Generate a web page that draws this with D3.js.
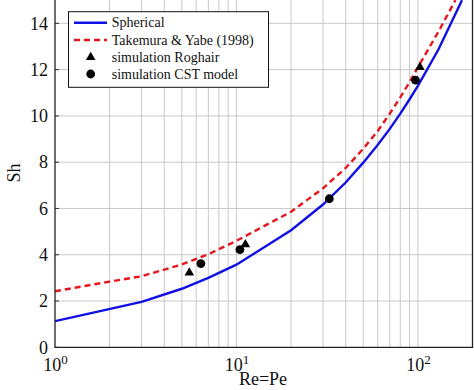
<!DOCTYPE html>
<html><head><meta charset="utf-8">
<script src="https://cdn.jsdelivr.net/npm/d3@7"></script>
<style>body{margin:0;background:#fff}svg{display:block}</style>
</head><body>
<svg id="c" width="474" height="390"></svg>
<script>
// ---- data ----
const sphericalRe = [1, 3, 5, 7, 10, 20, 30, 40, 50, 60, 70, 80, 90, 100, 130, 175];
const sphericalSh = [1.13, 1.96, 2.53, 3.0, 3.57, 5.06, 6.17, 7.12, 7.98, 8.74, 9.44, 10.1, 10.72, 11.3, 12.88, 15.0];
const takemuraRe = [1, 2, 3, 5, 7, 10, 20, 30, 40, 50, 60, 70, 80, 90, 100, 130, 161];
const takemuraSh = [2.42, 2.84, 3.07, 3.58, 4.02, 4.6, 5.86, 6.87, 7.75, 8.58, 9.34, 10.1, 10.8, 11.46, 12.1, 13.65, 15.0];
const roghairRe = [5.5, 11.2, 102.6];
const roghairSh = [3.22, 4.44, 12.1];
const cstRe = [6.37, 10.45, 32.5, 97];
const cstSh = [3.62, 4.22, 6.42, 11.55];
const yTicks = [0, 2, 4, 6, 8, 10, 12, 14];
const xMajor = [1, 10, 100];
const xMajorExp = ["0", "1", "2"];
const xGrid = [2,3,4,5,6,7,8,9,10,20,30,40,50,60,70,80,90,100];
const legendLabels = ["Spherical", "Takemura & Yabe (1998)", "simulation Roghair", "simulation CST model"];

const svg = d3.select("#c");
const L = 55, R = 472.5, T = 0.2, B = 347.3;
const x = d3.scaleLog().domain([1, 200]).range([L, R]);
const y = d3.scaleLinear().domain([0, 15]).range([B, T]);
const font = "'Liberation Serif', 'Times New Roman', serif";

svg.append("defs").append("clipPath").attr("id", "clip")
  .append("rect").attr("x", L).attr("y", 0).attr("width", R - L).attr("height", B);

// grid
const g = svg.append("g");
g.selectAll("line.vx").data(xGrid).join("line")
  .attr("x1", d => x(d)).attr("x2", d => x(d)).attr("y1", 0).attr("y2", B)
  .attr("stroke", "#c9c9c9").attr("stroke-width", 1);
g.selectAll("line.hy").data(yTicks.filter(d => d > 0)).join("line")
  .attr("class","hy")
  .attr("x1", L).attr("x2", R).attr("y1", d => y(d)).attr("y2", d => y(d))
  .attr("stroke", "#c9c9c9").attr("stroke-width", 1);

// axes with d3
const yAxis = d3.axisLeft(y).tickValues(yTicks).tickSize(0).tickPadding(7).tickFormat(d3.format("d"));
const ya = svg.append("g").attr("transform", `translate(${L},0)`).call(yAxis);
ya.select(".domain").remove();
ya.selectAll("text").attr("font-family", font).attr("font-size", 18).attr("fill", "#111");

const xAxis = d3.axisBottom(x).tickValues(xMajor).tickSize(0).tickFormat(() => "");
const xa = svg.append("g").attr("transform", `translate(0,${B})`).call(xAxis);
xa.select(".domain").remove();
xa.selectAll(".tick").each(function(d, i) {
  const t = d3.select(this).append("text").attr("y", 24).attr("text-anchor", "middle")
    .attr("font-family", font).attr("font-size", 18).attr("fill", "#111");
  t.append("tspan").text("10");
  t.append("tspan").attr("dy", -7).attr("font-size", 13).text(xMajorExp[i]);
});

// tick marks inside
svg.append("g").selectAll("line").data(yTicks).join("line")
  .attr("x1", L).attr("x2", L + 4).attr("y1", d => y(d)).attr("y2", d => y(d))
  .attr("stroke", "#333");

// curves
const line = d3.line().x(d => x(d[0])).y(d => y(d[1]));
const plot = svg.append("g").attr("clip-path", "url(#clip)");
plot.append("path").datum(d3.zip(sphericalRe, sphericalSh)).attr("d", line)
  .attr("fill", "none").attr("stroke", "#1010e6").attr("stroke-width", 2.4);
plot.append("path").datum(d3.zip(takemuraRe, takemuraSh)).attr("d", line)
  .attr("fill", "none").attr("stroke", "#e8141c").attr("stroke-width", 2.4)
  .attr("stroke-dasharray", "6,4");

const tri = d3.symbol().type(d3.symbolTriangle).size(40);
plot.selectAll("path.tri").data(d3.zip(roghairRe, roghairSh)).join("path")
  .attr("class", "tri").attr("d", tri)
  .attr("transform", d => `translate(${x(d[0])},${y(d[1])})`).attr("fill", "#000");
plot.selectAll("circle.cst").data(d3.zip(cstRe, cstSh)).join("circle")
  .attr("class", "cst").attr("cx", d => x(d[0])).attr("cy", d => y(d[1])).attr("r", 4.4)
  .attr("fill", "#000");

// frame
svg.append("path").attr("d", `M${L},0V${B}H${R}V0`).attr("fill", "none")
  .attr("stroke", "#222").attr("stroke-width", 1.3);

// axis labels
svg.append("text").attr("x", 263).attr("y", 385).attr("text-anchor", "middle")
  .attr("font-family", font).attr("font-size", 18).attr("fill", "#111").text("Re=Pe");
svg.append("text").attr("transform", "translate(20,173) rotate(-90)").attr("text-anchor", "middle")
  .attr("font-family", font).attr("font-size", 18).attr("fill", "#111").text("Sh");

// legend
const lg = svg.append("g");
lg.append("rect").attr("x", 68.5).attr("y", 11.7).attr("width", 200).attr("height", 75.6)
  .attr("fill", "#fff").attr("stroke", "#111").attr("stroke-width", 1);
const rows = [22.7, 40, 57.3, 74];
lg.append("line").attr("x1", 74).attr("x2", 107).attr("y1", rows[0]).attr("y2", rows[0])
  .attr("stroke", "#1010e6").attr("stroke-width", 2.4);
lg.append("line").attr("x1", 74).attr("x2", 107).attr("y1", rows[1]).attr("y2", rows[1])
  .attr("stroke", "#e8141c").attr("stroke-width", 2.4).attr("stroke-dasharray", "6,4");
lg.append("path").attr("d", tri).attr("transform", `translate(90.7,${rows[2]})`).attr("fill", "#000");
lg.append("circle").attr("cx", 90.7).attr("cy", rows[3]).attr("r", 4.4).attr("fill", "#000");
lg.selectAll("text").data(legendLabels).join("text")
  .attr("x", 111.7).attr("y", (d, i) => rows[i] + 4.5)
  .attr("font-family", font).attr("font-size", 14).attr("fill", "#111").text(d => d);
</script>
</body></html>
